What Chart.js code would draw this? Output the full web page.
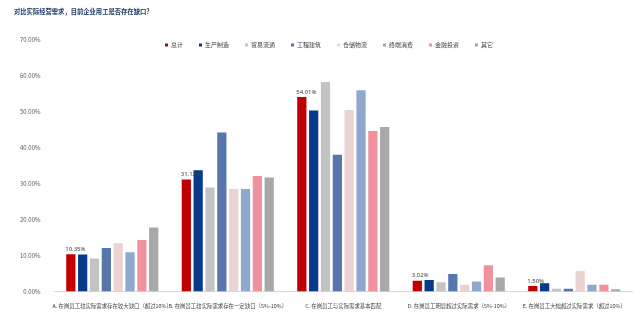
<!DOCTYPE html>
<html lang="zh">
<head>
    <meta charset="UTF-8">
    <title>企业用工缺口</title>
    <script src="https://cdn.jsdelivr.net/npm/chart.js"></script>
    <style>
        html, body { margin: 0; padding: 0; background: #fff; }
        .wrap { width: 640px; height: 326px; }
    </style>
</head>
<body>
    <div class="wrap"><canvas id="gapChart"></canvas></div>
    <script>
        const categories = [
            'A. 在岗员工较实际需求存在较大缺口（超过10%）',
            'B. 在岗员工较实际需求存在一定缺口（5%-10%）',
            'C. 在岗员工与实际需求基本匹配',
            'D. 在岗员工明显超过实际需求（5%-10%）',
            'E. 在岗员工大幅超过实际需求（超过10%）'
        ];
        const seriesNames = ['总计', '生产制造', '贸易流通', '工程建筑', '仓储物流', '终端消费', '金融投资', '其它'];
        const total = [10.35, 31.12, 54.01, 3.02, 1.50];
        const manufacturing = [10.3, 33.7, 50.3, 3.2, 2.3];
        const trade = [9.2, 28.9, 58.2, 2.6, 0.8];
        const construction = [12.1, 44.2, 38.0, 4.9, 0.8];
        const logistics = [13.4, 28.5, 50.4, 1.9, 5.7];
        const consumer = [10.9, 28.5, 55.9, 2.8, 1.9];
        const finance = [14.3, 32.1, 44.6, 7.3, 1.9];
        const others = [17.8, 31.7, 45.7, 3.9, 0.6];
        const yTicks = [0, 10, 20, 30, 40, 50, 60, 70];

        const seriesData = [total, manufacturing, trade, construction, logistics, consumer, finance, others];
        const colors = ['#C00000', '#053A8A', '#C3C3C3', '#5676AC', '#EBD3D3', '#8FA8CE', '#F0929E', '#A8A8A8'];

        Chart.defaults.font.family = '"Noto Sans CJK SC", "Noto Sans", sans-serif';

        // labels above the 总计 bars only
        const totalLabels = {
            id: 'totalLabels',
            afterDatasetsDraw(chart) {
                const ctx = chart.ctx;
                const meta = chart.getDatasetMeta(0);
                ctx.save();
                ctx.font = '6px "Noto Sans", sans-serif';
                ctx.fillStyle = '#404040';
                ctx.textAlign = 'left';
                ctx.textBaseline = 'bottom';
                meta.data.forEach((bar, i) => {
                    ctx.fillText(total[i].toFixed(2) + '%', bar.x - bar.width / 2 - 1, bar.y - 2);
                });
                ctx.restore();
            }
        };

        // legend sits inside the plot area, on one row
        // (it only takes 1px in the layout, then gets moved down)
        const legendInside = {
            id: 'legendInside',
            afterLayout(chart) {
                const lg = chart.legend;
                lg.top = 26;
                lg.height = 30;
                lg.bottom = lg.top + lg.height;
                lg.left += 6;
                lg.right += 6;
            }
        };

        const ctx = document.getElementById('gapChart').getContext('2d');
        new Chart(ctx, {
            type: 'bar',
            data: {
                labels: categories,
                datasets: seriesNames.map((name, i) => ({
                    label: name,
                    data: seriesData[i],
                    backgroundColor: colors[i],
                    barPercentage: 0.78,
                    categoryPercentage: 0.82
                }))
            },
            options: {
                responsive: true,
                maintainAspectRatio: false,
                animation: false,
                layout: { padding: { left: 14, right: 8, top: 0, bottom: 14 } },
                plugins: {
                    title: {
                        display: true,
                        text: '对比实际经营需求，目前企业用工是否存在缺口？',
                        align: 'start',
                        color: '#1F3864',
                        font: { size: 6.3, weight: 'bold' },
                        padding: { top: 8, bottom: 23 }
                    },
                    legend: {
                        position: 'top',
                        align: 'center',
                        maxHeight: 1,
                        labels: {
                            usePointStyle: true,
                            pointStyle: 'rect',
                            boxWidth: 3,
                            boxHeight: 3,
                            padding: 16,
                            color: '#404040',
                            font: { size: 6 }
                        }
                    },
                    tooltip: { enabled: false }
                },
                scales: {
                    x: {
                        grid: { display: false },
                        border: { color: '#D9D9D9' },
                        ticks: {
                            color: '#404040',
                            font: { size: 5.4 },
                            maxRotation: 0,
                            autoSkip: false,
                            padding: 3
                        }
                    },
                    y: {
                        min: 0,
                        max: 70,
                        grid: { display: false },
                        border: { display: false },
                        afterBuildTicks(scale) {
                            scale.ticks = yTicks.map(v => ({ value: v }));
                        },
                        ticks: {
                            color: '#595959',
                            font: { size: 6 },
                            padding: 6,
                            callback: v => v.toFixed(2) + '%'
                        }
                    }
                }
            },
            plugins: [totalLabels, legendInside]
        });
    </script>
</body>
</html>
